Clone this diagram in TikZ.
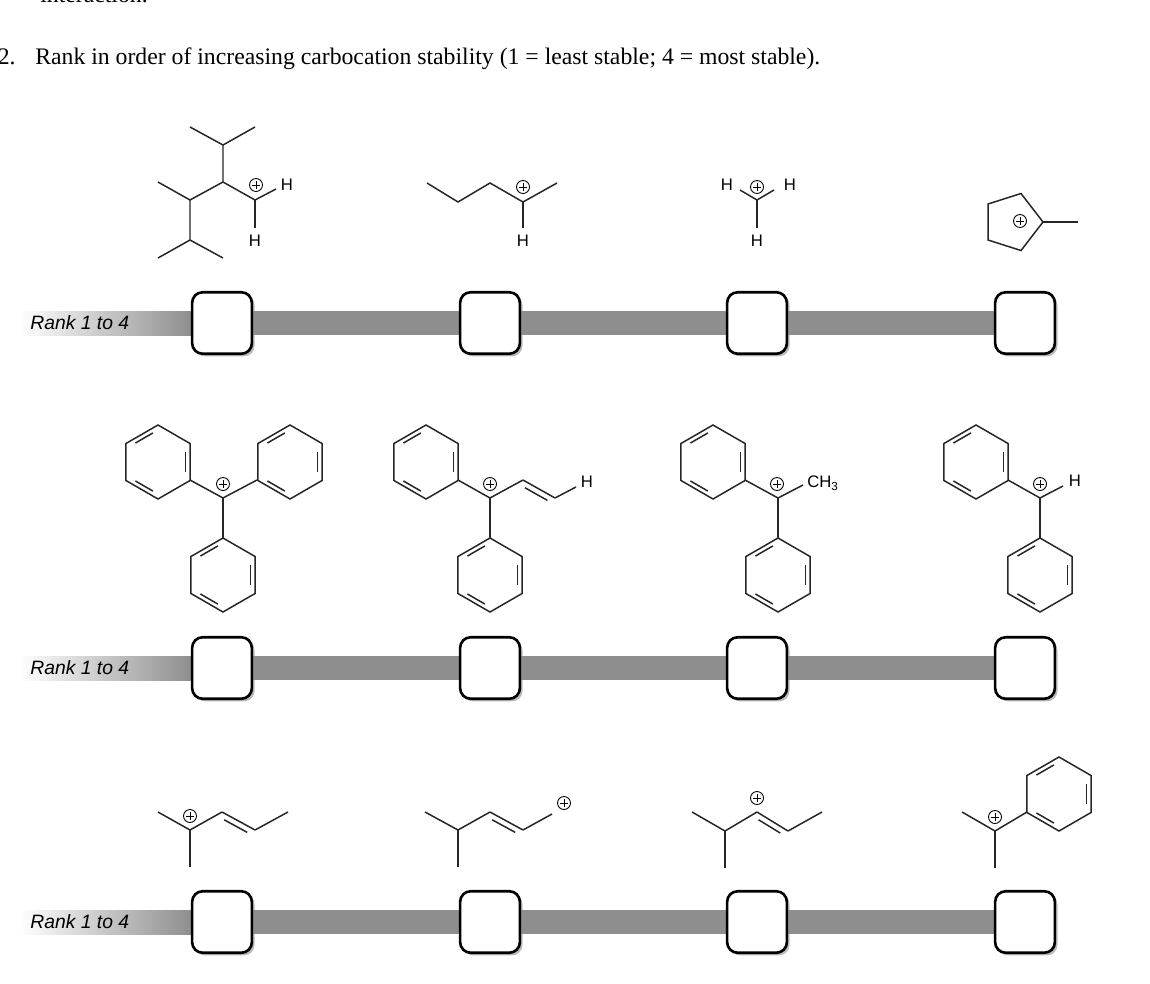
\documentclass[tikz,border=0pt]{standalone}
\usepackage{fontspec}
\setmainfont{Liberation Serif}
\setsansfont{Liberation Sans}
\usetikzlibrary{calc,shadows}
\definecolor{bargrey}{HTML}{8E8E8E}
\tikzset{
  bond/.style={line width=0.85pt,color=black!85},
  atom/.style={font=\sffamily\fontsize{9.5pt}{10pt}\selectfont,inner sep=0pt},
  rankbox/.style={draw,line width=1.5pt,rounded corners=6pt,minimum width=34pt,minimum height=35pt,fill=white,
     drop shadow={shadow xshift=1.5pt,shadow yshift=-1.5pt,fill=black!45,opacity=0.6}},
  ranklabel/.style={font=\sffamily\itshape\fontsize{11pt}{12pt}\selectfont,anchor=west,inner sep=0pt},
}
\newcommand\benz[3]{%
  \draw[bond] (#1,#2) +(#3:37) -- +(#3+60:37) -- +(#3+120:37) -- +(#3+180:37) -- +(#3+240:37) -- +(#3+300:37) -- cycle;
  \foreach \k in {1,3,5}{\draw[bond] (#1,#2) +(#3+60*\k+10:29.5) -- +(#3+60*\k+50:29.5);}}
\newcommand\dbl[4]{%
  \coordinate (dp) at (#1,#2); \coordinate (dq) at (#3,#4);
  \draw[bond] (dp) -- (dq);
  \coordinate (dp2) at ($(dp)!3.3pt!-90:(dq)$); \coordinate (dq2) at ($(dq)!3.3pt!90:(dp)$);
  \draw[bond] ($(dp2)!0.15!(dq2)$) -- ($(dq2)!0.15!(dp2)$);}
\newcommand\cplus[2]{%
  \draw[line width=0.5pt] (#1,#2) circle (6.5);
  \draw[line width=0.5pt] (#1-4,#2) -- (#1+4,#2) (#1,#2-4) -- (#1,#2+4);}
\begin{document}
\begin{tikzpicture}[x=0.02cm,y=-0.02cm]
\useasboundingbox (0,0) rectangle (1150,984);
\clip (0,0) rectangle (1150,984);
% header
\node[anchor=base west,inner sep=0pt,font=\fontsize{13.5pt}{15pt}\selectfont] (t0) at (40,2) {interaction.};
\node[anchor=base east,inner sep=0pt,font=\fontsize{13.5pt}{15pt}\selectfont] (t1) at (16,64) {2.};
\node[anchor=base west,inner sep=0pt,font=\fontsize{13.5pt}{15pt}\selectfont] (t2) at (35,64) {Rank in order of increasing carbocation stability (1 = least stable; 4 = most stable).};
% bars
\foreach \y/\n in {323/r1,668/r2,922/r3}{
  \shade[left color=white,right color=bargrey] (20,\y-12) rectangle (192,\y+12);
  \fill[bargrey] (192,\y-12) rectangle (1025,\y+12);
  \node[ranklabel] (\n lab) at (30,\y) {Rank 1 to 4};
  \node[rankbox] (\n a) at (222,\y) {};
  \node[rankbox] (\n b) at (490,\y) {};
  \node[rankbox] (\n c) at (757,\y) {};
  \node[rankbox] (\n d) at (1025,\y) {};
}
% ---------- Row 1 ----------
\draw[bond] (190,127) -- (223,145) -- (255,127);
\draw[bond] (223,145) -- (223,182) -- (255,200) -- (276,189);
\draw[bond] (255,200) -- (255,228);
\draw[bond] (223,182) -- (190,200) -- (158,182);
\draw[bond] (190,200) -- (190,240) -- (158,258);
\draw[bond] (190,240) -- (223,258);
\cplus{256}{185}
\node[atom] (h11) at (287,185) {H};
\node[atom] (h12) at (255,241) {H};
\draw[bond] (427,183) -- (458,202) -- (490,183) -- (523,202) -- (557,183);
\draw[bond] (523,202) -- (523,228);
\cplus{523}{187}
\node[atom] (h21) at (523,241) {H};
\draw[bond] (757,200) -- (740,190);
\draw[bond] (757,200) -- (774,190);
\draw[bond] (757,200) -- (757,228);
\cplus{757}{187}
\node[atom] (h31) at (727,185) {H};
\node[atom] (h32) at (790,185) {H};
\node[atom] (h33) at (757,241) {H};
\draw[bond] (1043,222) -- (1021,193.5) -- (988,204) -- (988,240) -- (1021,250.5) -- cycle;
\draw[bond] (1043,222) -- (1078,222);
\cplus{1020}{221}
% ---------- Row 2 ----------
\benz{158}{462}{30}\benz{290}{462}{150}\benz{223}{575}{-90}
\draw[bond] (190,480) -- (223,498) -- (257,480);
\draw[bond] (223,498) -- (223,538);
\cplus{223}{484}
\benz{426}{462}{30}\benz{490}{575}{-90}
\draw[bond] (458,480) -- (490,498) -- (523,480);
\draw[bond] (490,498) -- (490,538);
\dbl{523}{480}{555}{498}
\draw[bond] (555,498) -- (576,487);
\cplus{490}{484}
\node[atom] (hB) at (587,482) {H};
\benz{713}{462}{30}\benz{778}{575}{-90}
\draw[bond] (745,480) -- (778,498) -- (803,485);
\draw[bond] (778,498) -- (778,538);
\cplus{777}{484}
\node[atom,anchor=west] (ch3) at (807,483) {CH\textsubscript{3}};
\benz{976}{462}{30}\benz{1040}{575}{-90}
\draw[bond] (1008,480) -- (1040,498) -- (1063,486);
\draw[bond] (1040,498) -- (1040,538);
\cplus{1040}{484}
\node[atom] (hD) at (1075,481) {H};
% ---------- Row 3 ----------
\draw[bond] (158,812) -- (190,830) -- (222,812);
\draw[bond] (190,830) -- (190,867);
\dbl{222}{812}{255}{830}
\draw[bond] (255,830) -- (288,812);
\cplus{190}{816}
\draw[bond] (425,812) -- (458,830) -- (490,812);
\draw[bond] (458,830) -- (458,867);
\dbl{490}{812}{523}{830}
\draw[bond] (523,830) -- (552,814);
\cplus{564}{803}
\draw[bond] (692,812) -- (725,831) -- (757,812);
\draw[bond] (725,831) -- (725,868);
\dbl{757}{812}{788}{831}
\draw[bond] (788,831) -- (822,812);
\cplus{757}{798}
\draw[bond] (962,812) -- (995,831) -- (1027,812);
\draw[bond] (995,831) -- (995,868);
\benz{1059}{794}{150}
\cplus{995}{817}
\end{tikzpicture}
\end{document}
